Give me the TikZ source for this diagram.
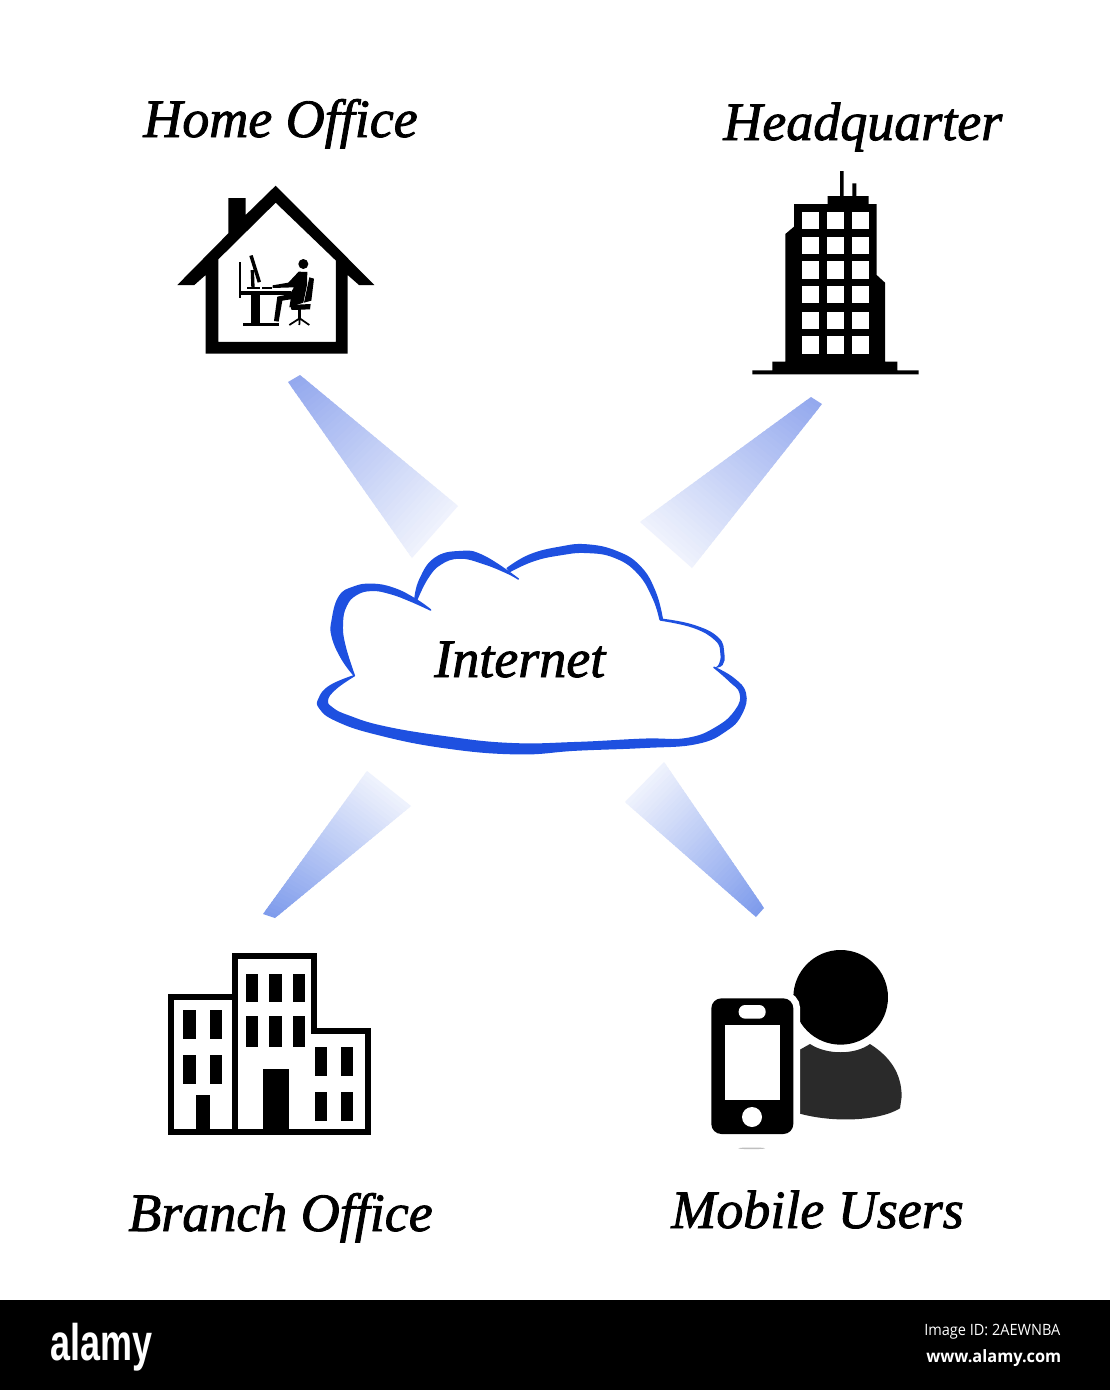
\documentclass[tikz,border=0pt]{standalone}
\usepackage{fontspec}
\setmainfont[Ligatures=NoCommon,ItalicFeatures={FakeBold=1.6}]{Liberation Serif}
\newfontfamily\bandfont{Open Sans}
\newfontfamily\logofont{Liberation Sans}
\usetikzlibrary{calc}
\definecolor{cloudblue}{HTML}{1E50E0}
\definecolor{beamdark}{HTML}{94A9EE}
\definecolor{beamdeep}{HTML}{7F9CEC}
\definecolor{beamlight}{HTML}{F1F4FD}
\definecolor{bodygray}{HTML}{2A2A2A}
\tikzset{
  labeltext/.style={font=\fontsize{30.73}{36}\selectfont\itshape, anchor=base west, inner sep=0pt, text=black},
  bandtext/.style={anchor=west, inner sep=0pt, text=white, font=\bandfont},
  zoomed/.style 2 args={shift={(#1,#2)}, x=0.00666667cm, y=-0.00666667cm},
  icon/.style={fill=black, draw=none},
  cloudcurve/.style={smooth,tension=0.75},
  cloudstroke/.style={fill=cloudblue, draw=cloudblue, line width=0.03cm, line join=round}
}
\newcommand{\beamfan}[5]{%
  \foreach \i in {0,...,39}{%
    \pgfmathsetmacro\ta{\i/40}%
    \pgfmathsetmacro\tb{min(1,(\i+1.6)/40)}%
    \pgfmathsetmacro\pc{100*(1-\ta)}%
    \fill[#5!\pc!beamlight] ($(#1)!\ta!(#4)$) -- ($(#2)!\ta!(#3)$) -- ($(#2)!\tb!(#3)$) -- ($(#1)!\tb!(#4)$) -- cycle;
  }%
}
\begin{document}
\begin{tikzpicture}[x=0.02cm,y=-0.02cm]
\useasboundingbox (0,0) rectangle (1110,1390);
\fill[white] (0,0) rectangle (1110,1390);

% labels
\node[labeltext] (home) at (143,137) {Home Office};
\node[labeltext] (hq) at (723,140) {Headquarter};
\node[labeltext] (net) at (434,677) {Internet};
\node[labeltext] (branch) at (128,1231) {Branch Office};
\node[labeltext] (mobile) at (671,1228) {Mobile Users};

% beams
\coordinate (a1) at (288,382); \coordinate (b1) at (300,375); \coordinate (c1) at (458,506); \coordinate (d1) at (412,558);
\beamfan{a1}{b1}{c1}{d1}{beamdark}
\coordinate (a2) at (811,397); \coordinate (b2) at (822,404); \coordinate (c2) at (692,568); \coordinate (d2) at (640,522);
\beamfan{a2}{b2}{c2}{d2}{beamdark}
\coordinate (a3) at (263,914); \coordinate (b3) at (275,918); \coordinate (c3) at (411,806); \coordinate (d3) at (367,771);
\beamfan{a3}{b3}{c3}{d3}{beamdeep}
\coordinate (a4) at (764,908); \coordinate (b4) at (756,917); \coordinate (c4) at (625,802); \coordinate (d4) at (664,762);
\beamfan{a4}{b4}{c4}{d4}{beamdeep}

% cloud
\begin{scope}[zoomed={310}{530}]
\path[cloudstroke] plot[cloudcurve] coordinates {(133,437) (95,385) (67,320) (67,270) (88,200) (130,172) (185,163) (250,175) (315,207) (362,240)}
  -- plot[cloudcurve] coordinates {(362,240) (300,212) (240,190) (185,181) (138,194) (108,228) (97,280) (104,345) (133,437)} -- cycle;
\path[cloudstroke] plot[cloudcurve] coordinates {(315,207) (330,148) (375,85) (450,65) (520,78) (625,147)}
  -- plot[cloudcurve] coordinates {(625,147) (590,128) (520,100) (450,84) (392,102) (352,145) (320,210)} -- cycle;
\path[cloudstroke] plot[cloudcurve] coordinates {(592,115) (660,75) (750,52) (830,45) (920,65) (990,110) (1035,185) (1057,268)}
  -- plot[cloudcurve] coordinates {(1050,268) (1030,205) (985,130) (915,82) (830,67) (750,74) (670,92) (600,124)} -- cycle;
\fill[cloudblue] plot[cloudcurve] coordinates {(1050,265) (1150,284) (1225,322) (1243,370) (1238,405) (1212,414)}
  -- plot[cloudcurve] coordinates {(1212,414) (1227,402) (1231,370) (1216,332) (1150,294) (1050,272)} -- cycle;
\path[cloudstroke] plot[cloudcurve] coordinates {(1212,412) (1270,445) (1306,490) (1295,550) (1250,600) (1160,640) (1000,652) (800,660) (620,671) (400,652) (200,612) (80,572) (30,535) (28,505) (60,468) (133,437)}
  -- plot[cloudcurve] coordinates {(133,437) (78,475) (52,510) (68,535) (115,558) (220,590) (400,620) (600,641) (800,638) (1000,628) (1130,626) (1220,592) (1278,540) (1291,490) (1258,452) (1212,412)} -- cycle;
\end{scope}

% house
\begin{scope}[zoomed={160}{170}]
\fill[black,even odd rule] (347,47) -- (643,345) -- (597,345) -- (563,315) -- (563,551) -- (137,551) -- (137,315) -- (103,345) -- (52,345) -- (205,190) -- (205,84) -- (257,84) -- (257,135) -- cycle
  (347,98) -- (528,272) -- (528,516) -- (175,516) -- (175,268) -- cycle;
% desk and monitor
\fill[icon] (268,258) -- (278,255) -- (303,335) -- (293,338) -- cycle;
\fill[icon] (272,300) -- (282,300) -- (284,354) -- (274,354) -- cycle;
\fill[icon] (262,351) -- (300,351) -- (300,358) -- (262,358) -- cycle;
\fill[icon] (305,351) -- (335,351) -- (335,356) -- (305,356) -- cycle;
\fill[icon] (238,275) rectangle (244,385);
\fill[icon] (243,364) rectangle (392,376);
\fill[icon] (272,376) rectangle (300,460);
\fill[icon] (250,458) rectangle (356,469);
% person
\fill[icon] (430,282) circle[radius=15];
\fill[icon] (416,305) -- (442,306) -- (441,345) -- (430,398) -- (388,412) -- (392,388) -- (367,392) -- (356,455) -- (342,453) -- (352,380) -- (390,372) -- (402,352) -- (338,354) -- (338,346) -- (385,338) -- cycle;
% chair
\fill[icon] (448,322) -- (462,326) -- (454,392) -- (432,398) -- cycle;
\fill[icon] (390,405) -- (452,402) -- (450,418) -- (395,420) -- cycle;
\fill[icon] (415,418) rectangle (424,446);
\draw[black,line width=0.35mm] (388,465) -- (419,445) -- (448,465) (419,445) -- (418,465);
\end{scope}

% headquarter
\begin{scope}[zoomed={740}{160}]
\fill[icon] (37,631) -- (97,631) -- (97,605) -- (136,605) -- (136,222) -- (162,200) -- (162,132) -- (263,132) -- (263,108) -- (300,108) -- (300,33) -- (311,33) -- (311,108) -- (337,108) -- (337,70) -- (349,70) -- (349,108) -- (386,108) -- (386,132) -- (410,132) -- (410,345) -- (435,368) -- (435,605) -- (472,605) -- (472,631) -- (536,631) -- (536,643) -- (37,643) -- cycle;
\foreach \xa/\xb in {185/237,261/312,335/386}
  \foreach \ya/\yb in {157/208,231/283,304/356,378/430,455/507,529/581}
    \fill[white] (\xa,\ya) rectangle (\xb,\yb);
\end{scope}

% branch office
\begin{scope}[zoomed={150}{940}]
\draw[black,line width=0.125cm,line cap=rect] (254,172) -- (62,172);
\draw[black,line width=0.125cm,line join=miter] (62,172) -- (62,577) -- (654,577) -- (654,274) -- (492,274) -- (492,49) -- (254,49) -- (254,577);
\foreach \xa/\xb in {287/325,358/396,428/466}
  \foreach \ya/\yb in {101/185,229/322}
    \fill[icon] (\xa,\ya) rectangle (\xb,\yb);
\foreach \xa/\xb in {100/138,179/217}
  \foreach \ya/\yb in {211/298,346/433}
    \fill[icon] (\xa,\ya) rectangle (\xb,\yb);
\foreach \xa/\xb in {494/532,572/610}
  \foreach \ya/\yb in {322/408,457/544}
    \fill[icon] (\xa,\ya) rectangle (\xb,\yb);
\fill[icon] (137,466) rectangle (181,577);
\fill[icon] (340,388) rectangle (418,577);
\end{scope}

% mobile user
\begin{scope}[zoomed={695}{940}]
\fill[bodygray] (295,340) -- (345,312) .. controls (395,345) and (480,345) .. (525,312) .. controls (585,350) and (620,400) .. (620,470) -- (615,505) .. controls (550,545) and (400,550) .. (295,515) -- cycle;
\fill[white] (437,172) circle[radius=163];
\fill[black] (437,172) circle[radius=142];
\draw[white,line width=0.27cm,rounded corners=0.2cm] (49,175) rectangle (295,582);
\fill[black,rounded corners=0.2cm] (49,175) rectangle (295,582);
\fill[white] (91,256) rectangle (254,480);
\fill[white,rounded corners=0.13cm] (131,195) rectangle (212,236);
\fill[white] (171,531) circle[radius=30];
\fill[black!25] (170,625) ellipse[x radius=40,y radius=2.5];
\end{scope}

% footer band
\fill[black] (0,1300) rectangle (1110,1390);
\node[bandtext] (alamy) at (50,1347) {\resizebox*{2.04cm}{0.96cm}{\logofont\bfseries alamy}};
\node[bandtext] (imgid) at (924,1332) {\resizebox*{2.72cm}{0.3cm}{Image ID: 2AEWNBA}};
\node[bandtext] (www) at (926,1358) {\resizebox*{2.7cm}{0.34cm}{\bfseries www.alamy.com}};
\end{tikzpicture}
\end{document}
